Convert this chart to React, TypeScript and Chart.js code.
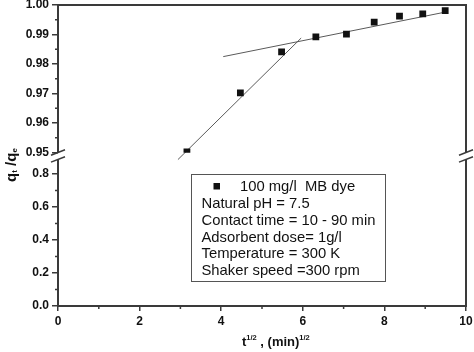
import { useEffect, useRef } from 'react';
import { Chart, registerables } from 'chart.js';

Chart.register(...registerables);

// ---- data ----
const sqrtTime = [3.16, 4.47, 5.48, 6.32, 7.07, 7.75, 8.37, 8.94, 9.49];
const qRatio = [0.9502, 0.9702, 0.9841, 0.9892, 0.9901, 0.9942, 0.9962, 0.997, 0.9981];
const fitInitialX = [2.94, 5.96];
const fitInitialY = [0.9476, 0.9888];
const fitLaterX = [4.05, 9.53];
const fitLaterY = [0.9825, 0.9977];
const topMinorTicks = [0.955, 0.965, 0.975, 0.985, 0.995];
const bottomMinorTicks = [0.1, 0.3, 0.5, 0.7];
const xMinorTicks = [1, 3, 5, 7, 9];
const seriesLabel = '100 mg/l  MB dye';
const conditionLines = [
  'Natural pH = 7.5',
  'Contact time = 10 - 90 min',
  'Adsorbent dose= 1g/l',
  'Temperature = 300 K',
  'Shaker speed =300 rpm',
];
const topRange = [0.94881, 1.0];
const bottomRange = [0, 0.909];
const breakTopValue = 0.95;
const breakBottomValue = 0.888;

const FAM = '"Liberation Sans", Arial, Helvetica, sans-serif';
const AXIS = '#3a3a3a';

const zeroPad = (s: any) => {
  s.paddingTop = 0;
  s.paddingBottom = 0;
  s.paddingLeft = 0;
  s.paddingRight = 0;
};

const decor = {
  id: 'decor',
  afterDraw(chart: any) {
    const { ctx, chartArea: ca, scales } = chart;
    const xs = scales.x;
    const yT = scales.yTop;
    const yB = scales.yBottom;
    const gapTop = yT.getPixelForValue(breakTopValue);
    const gapBottom = yB.getPixelForValue(breakBottomValue);
    ctx.save();
    ctx.strokeStyle = AXIS;
    ctx.lineWidth = 2;
    ctx.lineCap = 'butt';
    const line = (x1: number, y1: number, x2: number, y2: number) => {
      ctx.beginPath();
      ctx.moveTo(x1, y1);
      ctx.lineTo(x2, y2);
      ctx.stroke();
    };
    // frame
    line(ca.left - 1, ca.top, ca.right + 1, ca.top);
    line(ca.left - 1, ca.bottom, ca.right + 1, ca.bottom);
    for (const ax of [ca.left, ca.right]) {
      line(ax, ca.top, ax, gapTop);
      line(ax, gapBottom, ax, ca.bottom);
    }
    // break marks
    ctx.lineWidth = 1.5;
    for (const ax of [ca.left, ca.right]) {
      for (const yc of [gapTop, gapBottom]) {
        line(ax - 7, yc + 2.7, ax + 7, yc - 2.7);
      }
    }
    // minor ticks
    for (const v of topMinorTicks) {
      const y = yT.getPixelForValue(v);
      line(ca.left - 3, y, ca.left, y);
    }
    for (const v of bottomMinorTicks) {
      const y = yB.getPixelForValue(v);
      line(ca.left - 3, y, ca.left, y);
    }
    for (const v of xMinorTicks) {
      const x = xs.getPixelForValue(v);
      line(x, ca.bottom, x, ca.bottom + 3);
    }

    // legend box
    ctx.strokeStyle = '#555';
    ctx.lineWidth = 1;
    ctx.strokeRect(191.5, 174.5, 194, 107);
    ctx.fillStyle = '#111';
    ctx.fillRect(213.5, 183, 6.5, 6.5);
    ctx.font = `14.8px ${FAM}`;
    ctx.textBaseline = 'middle';
    ctx.textAlign = 'left';
    ctx.fillText(seriesLabel, 240, 187);
    conditionLines.forEach((t, i) => {
      ctx.fillText(t, 201.5, 204 + i * 16.8);
    });

    // x title with superscripts
    const main = `bold 13px ${FAM}`;
    const sup = `bold 7.5px ${FAM}`;
    const parts: [string, string, number][] = [
      ['t', main, 0],
      ['1/2', sup, -6],
      [' , (min)', main, 0],
      ['1/2', sup, -6],
    ];
    let px = 242;
    ctx.textBaseline = 'alphabetic';
    for (const [t, f, dy] of parts) {
      ctx.font = f;
      ctx.fillText(t, px, 346 + dy);
      px += ctx.measureText(t).width;
    }

    // y title rotated
    ctx.save();
    ctx.translate(12, 165);
    ctx.rotate(-Math.PI / 2);
    const yparts: [string, string, number][] = [
      ['q', `bold 15px ${FAM}`, 0],
      ['t', `bold 8px ${FAM}`, 3],
      [' /q', `bold 15px ${FAM}`, 0],
      ['e', `bold 8px ${FAM}`, 3],
    ];
    let tw = 0;
    for (const [t, f] of yparts) {
      ctx.font = f;
      tw += ctx.measureText(t).width;
    }
    let qx = -tw / 2;
    ctx.textBaseline = 'middle';
    for (const [t, f, dy] of yparts) {
      ctx.font = f;
      ctx.fillText(t, qx, dy);
      qx += ctx.measureText(t).width;
    }
    ctx.restore();
    ctx.restore();
  },
};

export default function App() {
  const ref = useRef<HTMLCanvasElement | null>(null);
  useEffect(() => {
    if (!ref.current) return;
    const tickFont = { family: FAM, size: 12, weight: 'bold' as const };
    const chart = new Chart(ref.current, {
      type: 'scatter',
      data: {
        datasets: [
          {
            label: seriesLabel,
            data: sqrtTime.map((x, i) => ({ x, y: qRatio[i] })),
            yAxisID: 'yTop',
            pointStyle: 'rect',
            pointRadius: 4.8,
            pointHoverRadius: 4.8,
            backgroundColor: '#111',
            borderColor: '#111',
            borderWidth: 0,
            clip: { left: 10, right: 10, top: 10, bottom: -3.3 } as any,
            order: 0,
          },
          {
            type: 'line',
            label: 'fit 1',
            data: fitInitialX.map((x, i) => ({ x, y: fitInitialY[i] })),
            yAxisID: 'yTop',
            borderColor: '#5a5a5a',
            borderWidth: 1,
            pointRadius: 0,
            fill: false,
            clip: { left: 10, right: 10, top: 10, bottom: 10 } as any,
            order: 1,
          },
          {
            type: 'line',
            label: 'fit 2',
            data: fitLaterX.map((x, i) => ({ x, y: fitLaterY[i] })),
            yAxisID: 'yTop',
            borderColor: '#5a5a5a',
            borderWidth: 1,
            pointRadius: 0,
            fill: false,
            clip: { left: 10, right: 10, top: 10, bottom: 10 } as any,
            order: 1,
          },
        ] as any,
      },
      options: {
        responsive: false,
        animation: false,
        events: [],
        layout: { padding: { left: 0, right: 8, top: 5, bottom: 0 } },
        plugins: { legend: { display: false }, tooltip: { enabled: false } },
        scales: {
          x: {
            type: 'linear',
            position: 'bottom',
            min: 0,
            max: 10,
            ticks: {
              stepSize: 2,
              font: tickFont,
              color: '#111',
              padding: 3,
              maxRotation: 0,
              callback: (v: any) => String(v),
            },
            grid: { drawOnChartArea: false, tickLength: 5, color: AXIS, lineWidth: 1.5 },
            border: { display: false },
            afterFit: (s: any) => {
              s.height = 46;
              zeroPad(s);
            },
          },
          yBottom: {
            type: 'linear',
            axis: 'y',
            position: 'left',
            stack: 'brk',
            stackWeight: 150,
            min: bottomRange[0],
            max: bottomRange[1],
            ticks: {
              stepSize: 0.2,
              includeBounds: false,
              font: tickFont,
              color: '#111',
              padding: 3,
              callback: (v: any) => Number(v).toFixed(1),
            },
            grid: { drawOnChartArea: false, tickLength: 6, color: AXIS, lineWidth: 1.5 },
            border: { display: false },
            afterFit: (s: any) => {
              s.width = 58;
              zeroPad(s);
            },
          },
          yTop: {
            type: 'linear',
            axis: 'y',
            position: 'left',
            stack: 'brk',
            stackWeight: 151,
            min: topRange[0],
            max: topRange[1],
            ticks: {
              stepSize: 0.01,
              includeBounds: false,
              font: tickFont,
              color: '#111',
              padding: 3,
              callback: (v: any) => Number(v).toFixed(2),
            },
            grid: { drawOnChartArea: false, tickLength: 6, color: AXIS, lineWidth: 1.5 },
            border: { display: false },
            afterFit: (s: any) => {
              s.width = 58;
              zeroPad(s);
            },
          },
        } as any,
      },
      plugins: [decor],
    });
    return () => chart.destroy();
  }, []);
  return (
    <div style={{ position: 'fixed', left: 0, top: 0, width: 474, height: 352, background: '#fff' }}>
      <canvas ref={ref} width={474} height={352} style={{ display: 'block' }} />
    </div>
  );
}
